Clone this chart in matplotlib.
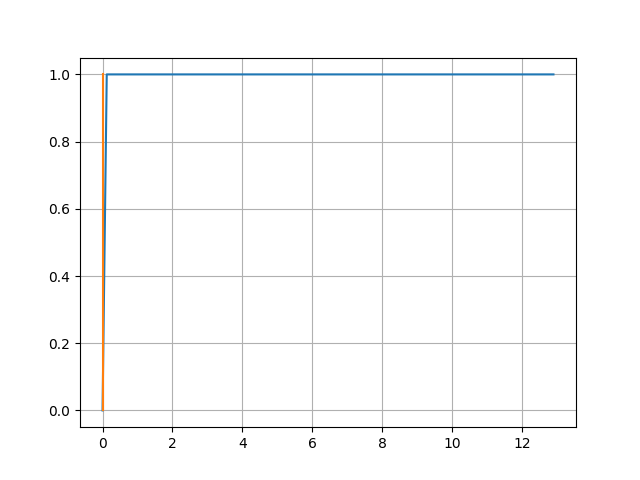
import matplotlib
matplotlib.use("Agg")
import matplotlib.pyplot as plt

blue_x = [0.0, 0.12, 12.9]
blue_y = [0.0, 1.0, 1.0]
orange_x = [0.0, 0.0]
orange_y = [0.0, 1.0]

fig, ax = plt.subplots(figsize=(6.4, 4.8), dpi=100)
ax.plot(blue_x, blue_y)
ax.plot(orange_x, orange_y)
ax.grid(True)
fig.savefig("out.png")
